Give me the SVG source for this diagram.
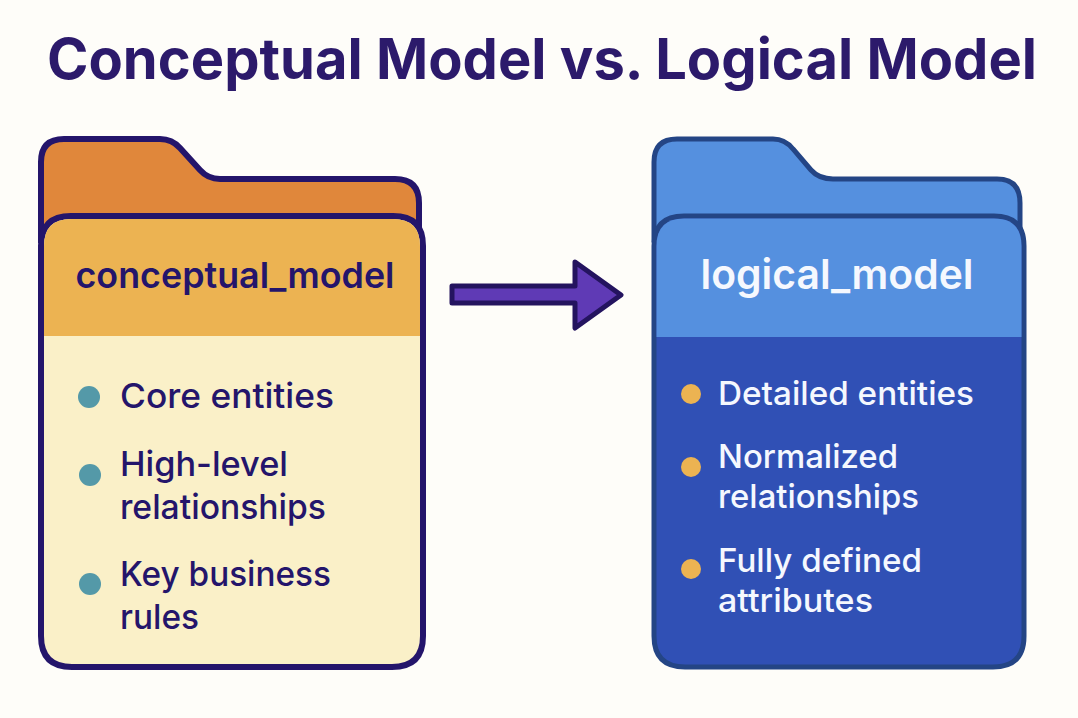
<svg xmlns="http://www.w3.org/2000/svg" width="1078" height="718" viewBox="0 0 1078 718">
<style>
.t{font-family:"Inter","Open Sans","Liberation Sans",sans-serif}
.title{font-size:56px;font-weight:700;fill:#2c1a6b}
.hd{font-weight:600}
.li{font-weight:500}
.c{font-size:34.500px}
.l{font-size:33.200px}
.d{fill:#24156b}.w{fill:#f5f8fe}
.o1{stroke:#24156b;stroke-width:6}
.o2{stroke:#244585;stroke-width:5}
</style>
<rect width="1078" height="718" fill="#fefdf9"/>
<text class="t title" x="542" y="79" text-anchor="middle" textLength="990" lengthAdjust="spacingAndGlyphs">Conceptual Model vs. Logical Model</text>
<g id="conceptual_model">
<path class="o1" fill="#e0873b" d="M41 240V162Q41 139 64 139H160Q172 139 180 148L200 170Q208 179 220 179H395Q419 179 419 203V240Z"/>
<path class="o1" fill="#faf0c8" d="M41 246Q41 216 71 216H393Q423 216 423 246V636Q423 667 392 667H72Q41 667 41 636Z"/>
<path fill="#ecb352" d="M44 336V246Q44 219 71 219H393Q420 219 420 246V336Z"/>
<text class="t hd d" x="235" y="288" text-anchor="middle" style="font-size:36px" textLength="319" lengthAdjust="spacingAndGlyphs">conceptual_model</text>
<circle cx="89" cy="397" r="11" fill="#5499a8"/><circle cx="90" cy="475" r="11" fill="#5499a8"/><circle cx="90" cy="584" r="11" fill="#5499a8"/>
<text class="t li d c" x="120" y="408" textLength="214" lengthAdjust="spacingAndGlyphs">Core entities</text>
<text class="t li d c" x="120" y="476" textLength="168" lengthAdjust="spacingAndGlyphs">High-level</text>
<text class="t li d c" x="120" y="519" textLength="206" lengthAdjust="spacingAndGlyphs">relationships</text>
<text class="t li d c" x="120" y="586" textLength="211" lengthAdjust="spacingAndGlyphs">Key business</text>
<text class="t li d c" x="120" y="629" textLength="79" lengthAdjust="spacingAndGlyphs">rules</text>
</g>
<g id="logical_model">
<path class="o2" fill="#5590df" d="M654 240V162Q654 139 677 139H773Q785 139 793 149L811 170Q819 179 833 179H997Q1020 179 1020 203V240Z"/>
<path class="o2" fill="#3050b5" d="M654 246Q654 216 684 216H994Q1024 216 1024 246V636Q1024 667 993 667H685Q654 667 654 636Z"/>
<path fill="#5590df" d="M656.500 337V246Q656.500 218.500 684 218.500H994Q1021.500 218.500 1021.500 246V337Z"/>
<text class="t hd w" x="837" y="289" text-anchor="middle" style="font-size:41px" textLength="273" lengthAdjust="spacingAndGlyphs">logical_model</text>
<circle cx="691" cy="394" r="10" fill="#ecb352"/><circle cx="691" cy="467" r="10" fill="#ecb352"/><circle cx="691" cy="569" r="10" fill="#ecb352"/>
<text class="t li w l" x="718" y="405" textLength="256" lengthAdjust="spacingAndGlyphs">Detailed entities</text>
<text class="t li w l" x="718" y="468" textLength="180" lengthAdjust="spacingAndGlyphs">Normalized</text>
<text class="t li w l" x="718" y="508" textLength="201" lengthAdjust="spacingAndGlyphs">relationships</text>
<text class="t li w l" x="718" y="572" textLength="204" lengthAdjust="spacingAndGlyphs">Fully defined</text>
<text class="t li w l" x="718" y="612" textLength="155" lengthAdjust="spacingAndGlyphs">attributes</text>
</g>
<g id="connectors">
<path d="M452 286H575V262L621 295L575 328V303H452Z" fill="#5f3ab5" stroke="#24145f" stroke-width="5" stroke-linejoin="round"/>
</g>
</svg>
